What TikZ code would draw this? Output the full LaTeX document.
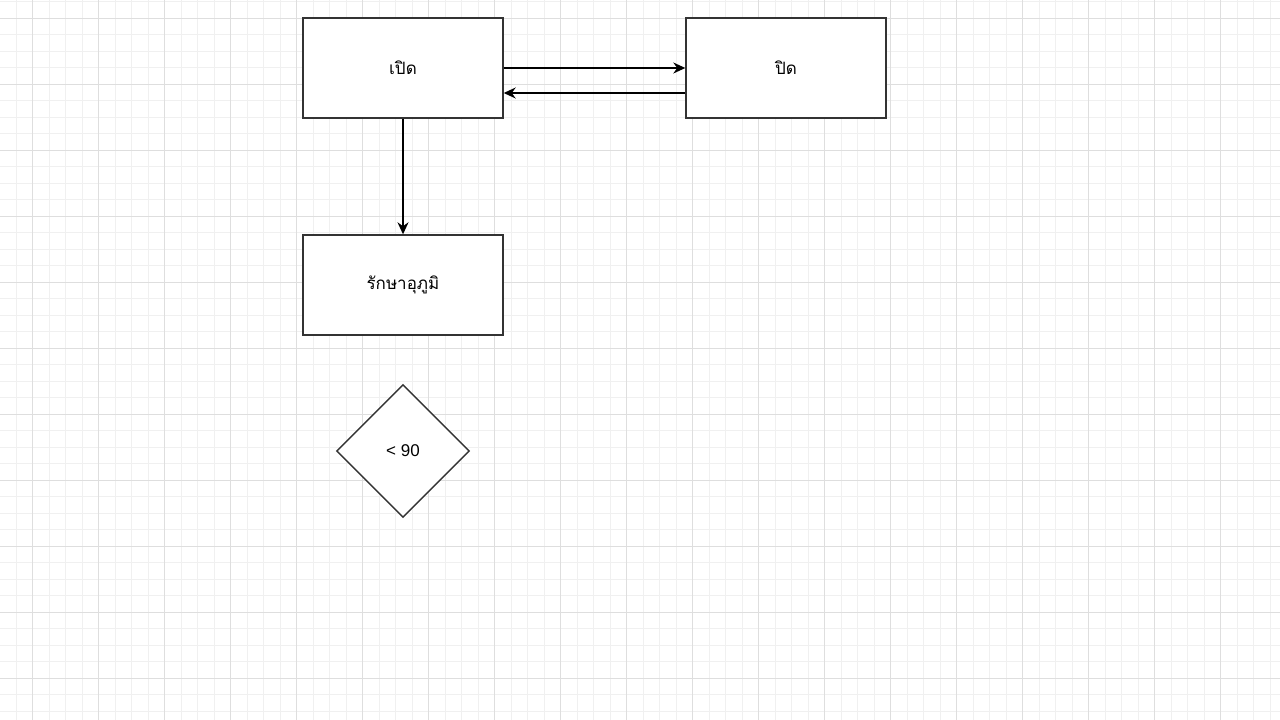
\documentclass[tikz,border=0pt]{standalone}
\usepackage{fontspec}
\setmainfont{Liberation Sans}
\newfontfamily\thaifont[Script=Thai]{Loma}
\usetikzlibrary{shapes.geometric,arrows.meta}
\begin{document}
\begin{tikzpicture}[x=1pt,y=-1pt,
  box/.style={draw=black!80,line width=1.4pt,fill=white,minimum width=200pt,minimum height=100pt,font=\thaifont\fontsize{17}{20}\selectfont},
  dia/.style={draw=black!80,line width=1.4pt,fill=white,diamond,minimum width=133pt,minimum height=133pt,inner sep=0pt,font=\fontsize{17}{20}\selectfont},
  conn/.style={line width=1.4pt,-{Stealth[length=12pt,width=11pt]}}]
\useasboundingbox (0,0) rectangle (1280,720);
\fill[white] (0,0) rectangle (1280,720);
\foreach \i in {0,...,78} {\draw[black!6,line width=0.6pt] ({-0.5+\i*16.5},0) -- ({-0.5+\i*16.5},720);}
\foreach \i in {0,...,44} {\draw[black!6,line width=0.6pt] (0,{1.5+\i*16.5}) -- (1280,{1.5+\i*16.5});}
\foreach \i in {0,...,20} {\draw[black!13,line width=0.8pt] ({32+\i*66},0) -- ({32+\i*66},720);}
\foreach \i in {-1,...,11} {\draw[black!13,line width=0.8pt] (0,{18+\i*66}) -- (1280,{18+\i*66});}
\node[box] (open) at (403,68) {เปิด};
\node[box] (close) at (786,68) {ปิด};
\node[box] (keep) at (403,285) {รักษาอุภูมิ};
\node[dia] (cond) at (403,451) {< 90};
\draw[conn] (open.east) -- (close.west);
\draw[conn] ([yshift=-25pt]close.west) -- ([yshift=-25pt]open.east);
\draw[conn] (open.south) -- (keep.north);
\end{tikzpicture}
\end{document}
